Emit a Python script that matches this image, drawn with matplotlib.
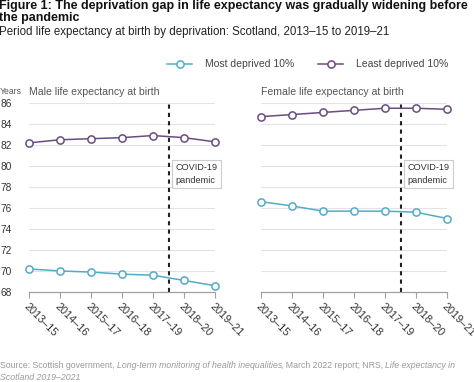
import matplotlib
matplotlib.use("Agg")
import matplotlib.pyplot as plt

plt.rcParams['font.family'] = ['Liberation Sans', 'DejaVu Sans']

periods = ["2013–15", "2014–16", "2015–17", "2016–18", "2017–19", "2018–20", "2019–21"]
male_most = [70.2, 70.0, 69.9, 69.7, 69.6, 69.1, 68.6]
male_least = [82.2, 82.5, 82.6, 82.7, 82.9, 82.7, 82.3]
female_most = [76.6, 76.2, 75.7, 75.7, 75.7, 75.6, 75.0]
female_least = [84.7, 84.9, 85.1, 85.3, 85.5, 85.5, 85.4]
yticks = [68, 70, 72, 74, 76, 78, 80, 82, 84, 86]
covid_x = 4.5

TEAL = "#55abc6"
PURPLE = "#6b4c80"
GRID = "#e3e3e3"
AXIS = "#a0a0a0"
TXT = "#333333"
GRAY = "#9a9a9a"

W, H = 474, 382
fig = plt.figure(figsize=(W / 100, H / 100), dpi=100)


def fx(px):
    return px / W


def fy(py):
    return 1 - py / H


def panel(left_px, most, least, title, show_y):
    ax = fig.add_axes([fx(left_px), fy(292), 186 / W, 189 / H])
    x = list(range(len(periods)))
    ax.set_xlim(0, len(periods) - 1)
    ax.set_ylim(68, 86)
    for yv in yticks[1:]:
        ax.axhline(yv, color=GRID, lw=0.8, zorder=0)
    for s in ["top", "right", "left"]:
        ax.spines[s].set_visible(False)
    ax.spines["bottom"].set_color(AXIS)
    ax.spines["bottom"].set_linewidth(0.9)
    ax.set_xticks(x)
    ax.set_xticklabels(periods, rotation=-45, ha="left", va="top",
                       rotation_mode="anchor", fontsize=7.8, color=TXT)
    ax.tick_params(axis="x", length=4, color=AXIS, width=0.8, pad=3)
    ax.set_yticks(yticks)
    if show_y:
        ax.set_yticklabels([str(v) for v in yticks], fontsize=7.3, color=TXT)
        ax.tick_params(axis="y", length=0, pad=12.2)
    else:
        ax.set_yticklabels([])
        ax.tick_params(axis="y", length=0)
    ax.plot([covid_x, covid_x], [68, 86], color="#222222", lw=1.5,
            linestyle=(0, (2, 2)), zorder=2, clip_on=False)
    ax.plot(x, most, color=TEAL, lw=1.1, marker="o", ms=5.2, mfc="white",
            mec=TEAL, mew=1.1, clip_on=False, zorder=3)
    ax.plot(x, least, color=PURPLE, lw=1.1, marker="o", ms=5.2, mfc="white",
            mec=PURPLE, mew=1.1, clip_on=False, zorder=3)
    ax.text(4.72, 80.25, "COVID-19\npandemic", fontsize=6.6, color=TXT,
            ha="left", va="top", linespacing=1.45,
            bbox=dict(boxstyle="square,pad=0.35", fc="white", ec="#cccccc", lw=0.8),
            zorder=4)
    fig.text(fx(left_px), fy(92), title, fontsize=7.6, color="#555555",
             ha="left", va="center")
    return ax


panel(29, male_most, male_least, "Male life expectancy at birth", True)
panel(261, female_most, female_least, "Female life expectancy at birth", False)

fig.text(fx(0), fy(92), "Years", fontsize=6.2, color="#555555", ha="left", va="center")

# Title and subtitle
fig.text(fx(-1), fy(6), "Figure 1: The deprivation gap in life expectancy was gradually widening before",
         fontsize=9.0, fontweight="bold", color="#111111", ha="left", va="center")
fig.text(fx(-1), fy(18), "the pandemic", fontsize=9.0, fontweight="bold",
         color="#111111", ha="left", va="center")
fig.text(fx(-1), fy(32.5), "Period life expectancy at birth by deprivation: Scotland, 2013–15 to 2019–21",
         fontsize=8.3, color="#222222", ha="left", va="center")

# Legend
leg_y = fy(64)
for x0, x1, tx, col, lab in [(167, 192, 205, TEAL, "Most deprived 10%"),
                              (318, 343, 356, PURPLE, "Least deprived 10%")]:
    fig.lines.append(plt.Line2D([fx(x0), fx(x1)], [leg_y, leg_y], color=col, lw=1.1,
                                transform=fig.transFigure))
    fig.lines.append(plt.Line2D([fx((x0 + x1) / 2)], [leg_y], color=col, marker="o",
                                ms=5.2, mfc="white", mec=col, mew=1.1,
                                transform=fig.transFigure))
    fig.text(fx(tx), leg_y, lab, fontsize=7.5, color="#444444", ha="left", va="center")

# Source (mixed regular / italic)
renderer = fig.canvas.get_renderer()
parts = [("Source: Scottish government, ", "normal"),
         ("Long-term monitoring of health inequalities", "italic"),
         (", March 2022 report; NRS, ", "normal"),
         ("Life expectancy in", "italic")]
xp = 0
for txt, style in parts:
    t = fig.text(fx(xp), fy(366), txt, fontsize=6.3, color=GRAY, style=style,
                 ha="left", va="center")
    bb = t.get_window_extent(renderer=renderer)
    xp += bb.width - (1.5 if style == "italic" else 0)
fig.text(fx(0), fy(377), "Scotland 2019–2021", fontsize=6.3, color=GRAY,
         style="italic", ha="left", va="center")

fig.savefig("out.png", dpi=100)
